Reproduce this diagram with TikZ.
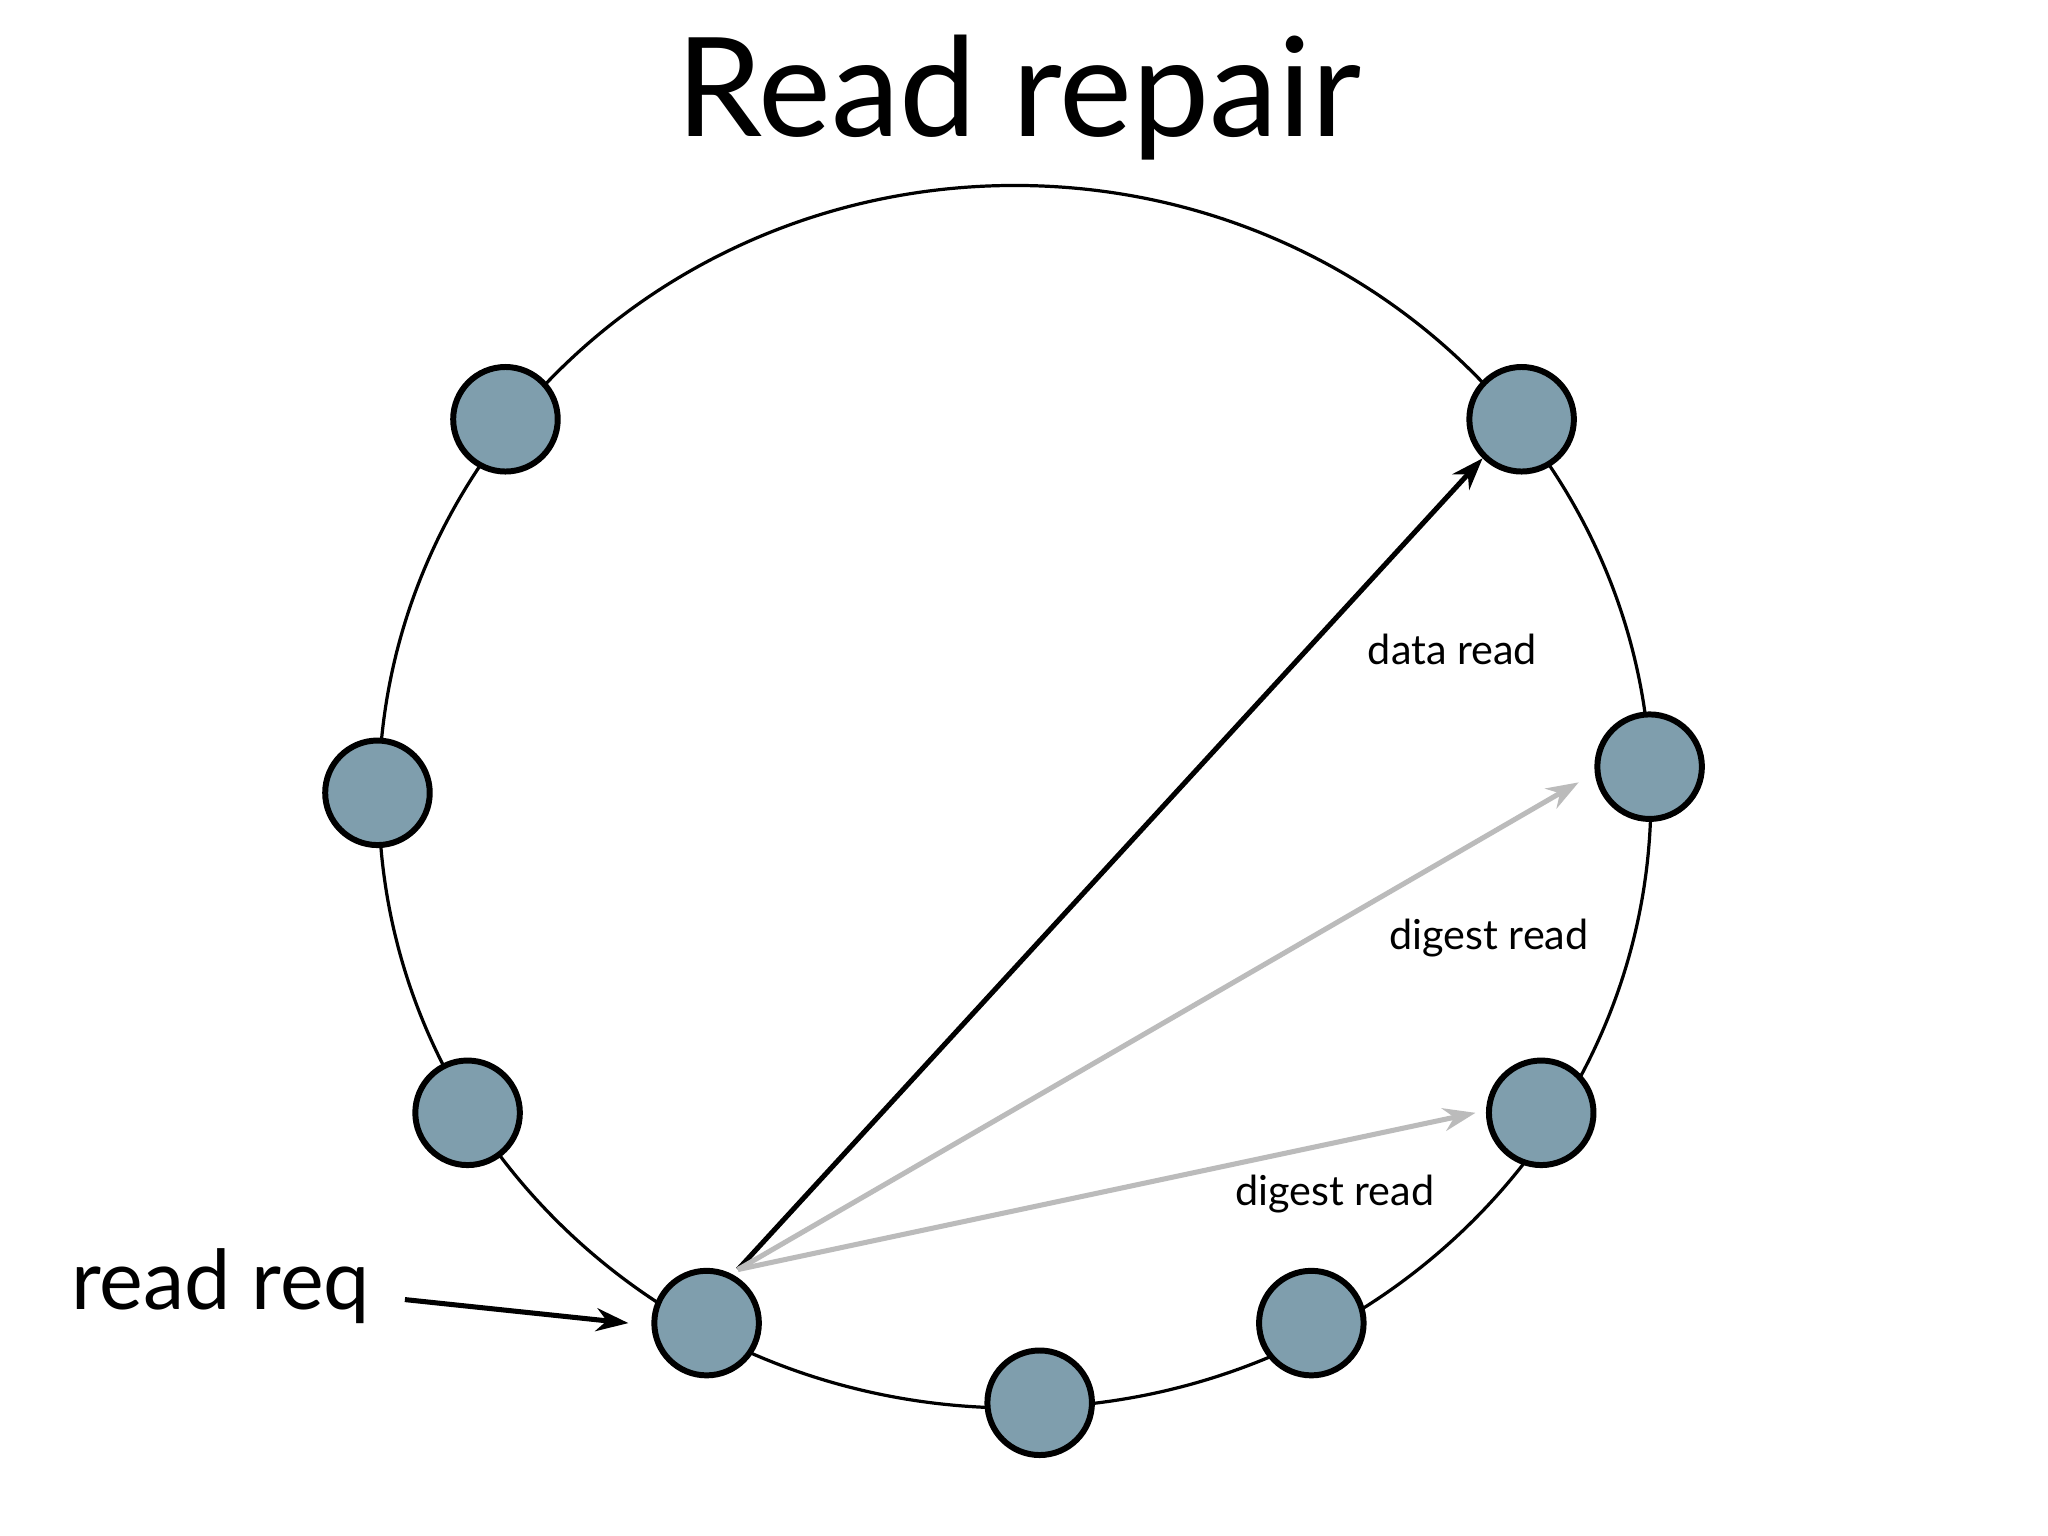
\documentclass[tikz,border=0pt]{standalone}
\usepackage{fontspec}
\setmainfont{Lato}
\usetikzlibrary{arrows.meta}
\definecolor{nodefill}{HTML}{7F9EAD}
\definecolor{digest}{HTML}{BBBBBB}
\begin{document}
\begin{tikzpicture}[x=0.01cm,y=-0.01cm,
  peer/.style={circle,draw=black,line width=1.3pt,fill=nodefill,minimum size=0.8cm,inner sep=0pt},
  msg/.style={-{Stealth[length=7pt,width=5pt]},line width=1.1pt},
  lbl/.style={font=\fontsize{9}{10}\selectfont}]
\useasboundingbox (0,0) rectangle (1568,1176);
\fill[white] (0,0) rectangle (1568,1176);
\draw[line width=0.7pt] (777,610) ellipse [x radius=487, y radius=468];
\node (title) at (780,75) {\fontsize{30}{32}\selectfont Read repair};
\node[peer] (n1) at (387,321) {};
\node[peer] (n2) at (1165,321) {};
\node[peer] (n3) at (289,607) {};
\node[peer] (n4) at (1263,587) {};
\node[peer] (n5) at (358,852) {};
\node[peer] (n6) at (1180,852) {};
\node[peer] (s)  at (541,1013) {};
\node[peer] (n8) at (1004,1013) {};
\node[peer] (n9) at (796,1074) {};
\coordinate (src) at (565,972);
\coordinate (req) at (310,995);
\node[anchor=west] (rr) at (42,985) {\fontsize{18}{20}\selectfont read req};
\draw[msg] (src) -- (n2.225) node[pos=0.5,coordinate] {};
\draw[msg,digest] (src) -- ([shift={(-12,12)}]n4.west);
\draw[msg,digest] (src) -- ([shift={(-8,0)}]n6.west);
\draw[msg] (req) -- ([xshift=-5]s.west);
\node[lbl] (l1) at (1112,497) {data read};
\node[lbl] (l2) at (1140,718) {digest read};
\node[lbl] (l3) at (1022,914) {digest read};
\end{tikzpicture}
\end{document}
